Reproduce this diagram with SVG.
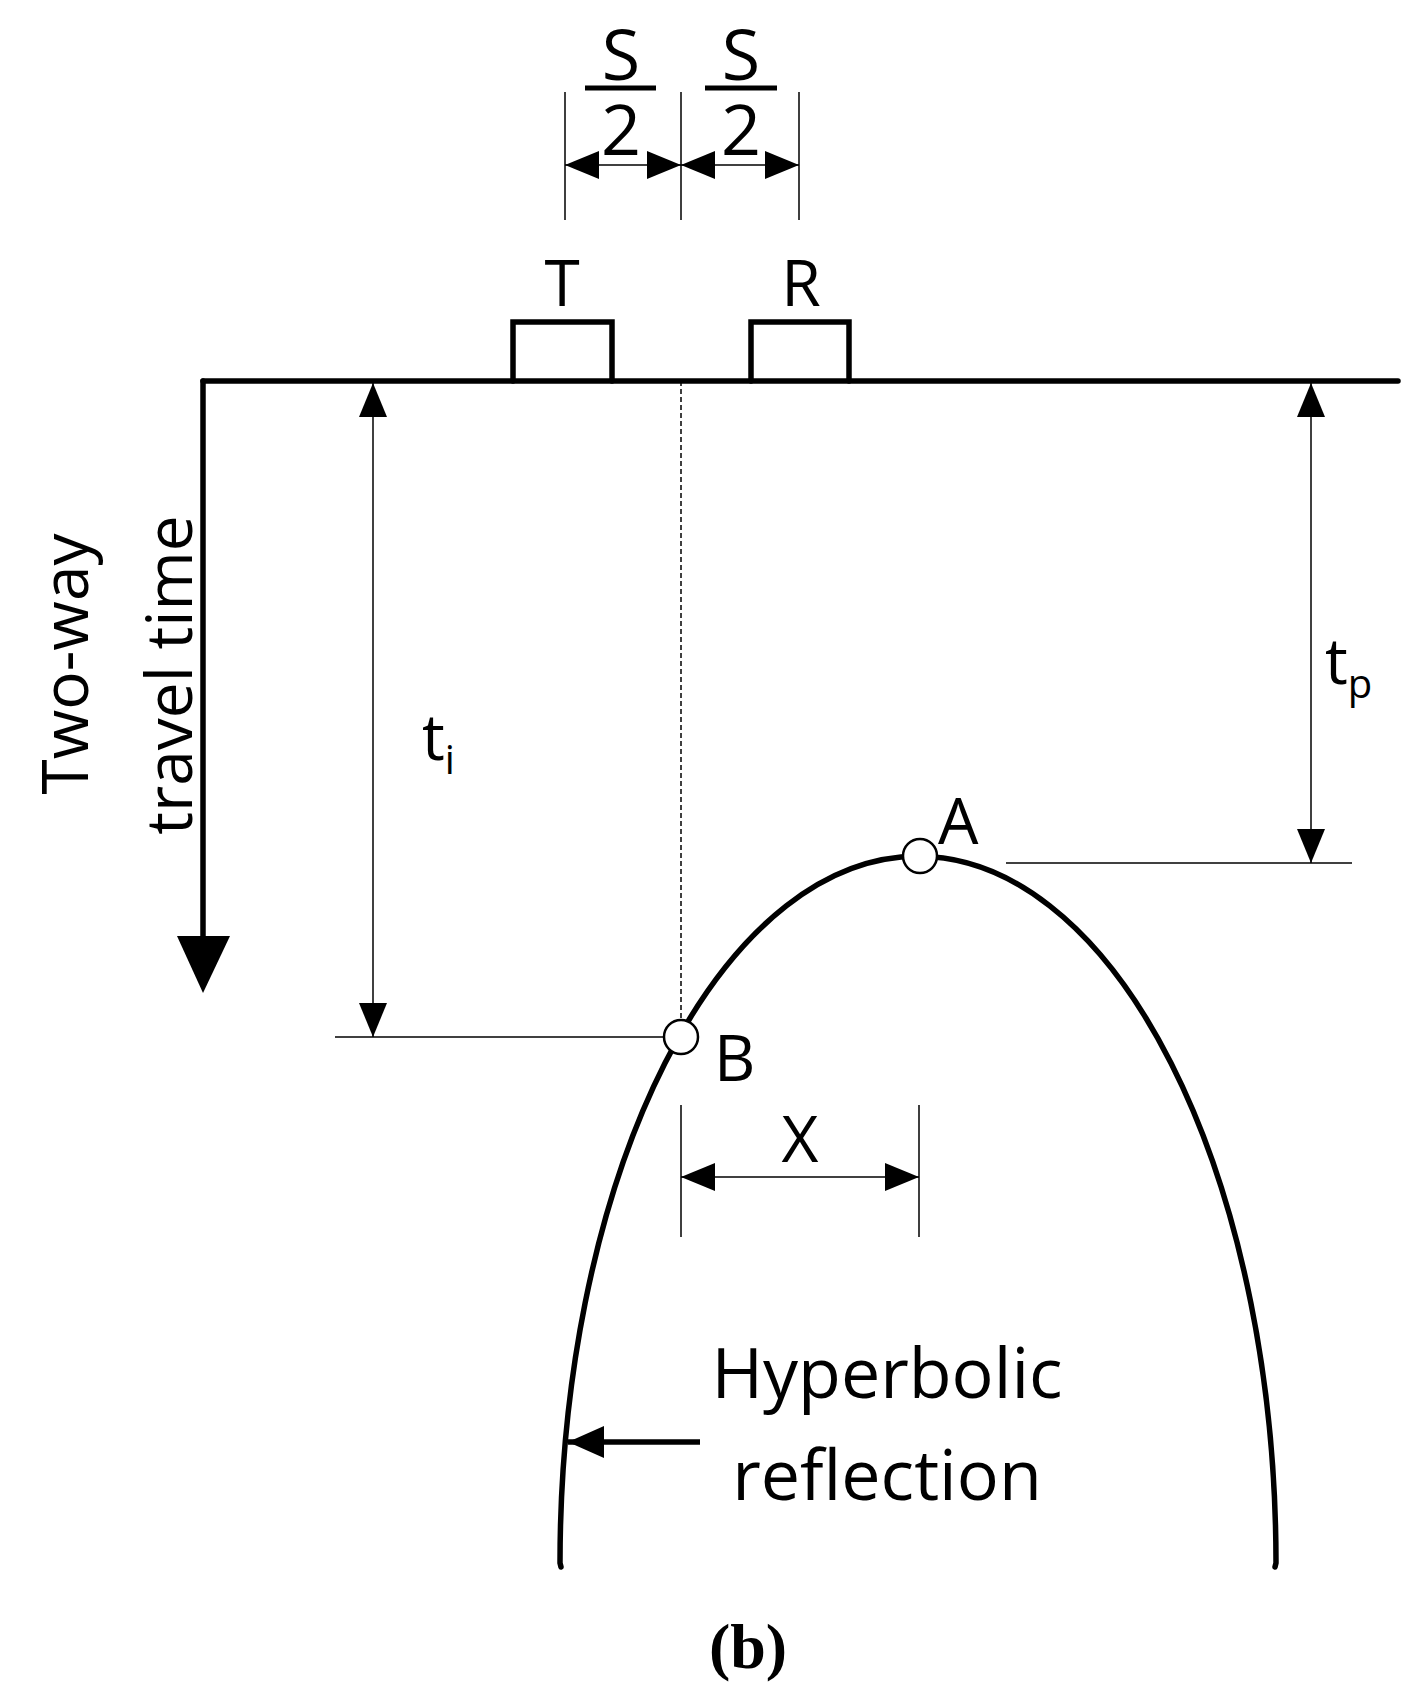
<svg xmlns="http://www.w3.org/2000/svg" width="1415" height="1695" viewBox="0 0 1415 1695">
<style>
.t{font-family:"Open Sans","Liberation Sans",sans-serif;fill:#000}
.thin{stroke:#000;stroke-width:1.5;fill:none}
.thick{stroke:#000;stroke-width:5.5;fill:none;stroke-linecap:round}
</style>
<defs>
<marker id="ar" markerUnits="userSpaceOnUse" markerWidth="34" markerHeight="28" refX="34" refY="14" orient="auto-start-reverse" viewBox="0 0 34 28"><path d="M0,0 L34,14 L0,28 Z" fill="#000"/></marker>
<marker id="ar2" markerUnits="userSpaceOnUse" markerWidth="36" markerHeight="32" refX="36" refY="16" orient="auto" viewBox="0 0 36 32"><path d="M0,0 L36,16 L0,32 Z" fill="#000"/></marker>
</defs>
<rect width="1415" height="1695" fill="#fff"/>
<g id="ground"><path class="thick" d="M203,381 H1398"/><path class="thick" d="M203,381 V940"/><path d="M177,936 L230,936 L203,993 Z" fill="#000"/></g>
<g id="T"><path class="thick" d="M513,381 V322 H612 V381" stroke-linecap="butt"/><text class="t" x="562" y="306" font-size="64" text-anchor="middle">T</text></g>
<g id="R"><path class="thick" d="M751,381 V322 H849 V381" stroke-linecap="butt"/><text class="t" x="801" y="306" font-size="64" text-anchor="middle">R</text></g>
<g id="connectors">
<path class="thin" d="M565,92 V220 M681,92 V220 M799,92 V220"/>
<path class="thin" d="M565,165 H681" marker-start="url(#ar)" marker-end="url(#ar)"/>
<path class="thin" d="M681,165 H799" marker-start="url(#ar)" marker-end="url(#ar)"/>
<path class="thin" d="M681,381 V1023" stroke-dasharray="5,3"/>
<path class="thin" d="M373,383 V1037" marker-start="url(#ar)" marker-end="url(#ar)"/>
<path class="thin" d="M335,1037 H669"/>
<path class="thin" d="M1311,383 V863" marker-start="url(#ar)" marker-end="url(#ar)"/>
<path class="thin" d="M1006,863 H1352"/>
<path class="thin" d="M681,1105 V1237 M919,1105 V1237"/>
<path class="thin" d="M681,1177 H919" marker-start="url(#ar)" marker-end="url(#ar)"/>
<path d="M700,1442 H568" stroke="#000" stroke-width="5.5" marker-end="url(#ar2)"/>
</g>
<g id="fractions">
<text class="t" x="621" y="80" font-size="70" text-anchor="middle">S</text>
<path d="M585,88 H656" stroke="#000" stroke-width="5"/>
<text class="t" x="621" y="155" font-size="70" text-anchor="middle">2</text>
<text class="t" x="741" y="80" font-size="70" text-anchor="middle">S</text>
<path d="M705,88 H777" stroke="#000" stroke-width="5"/>
<text class="t" x="741" y="155" font-size="70" text-anchor="middle">2</text>
</g>
<g id="curve"><path class="thick" d="M561,1567 L560,1563 A358,707 0 0 1 1276,1563 L1275,1567"/></g>
<g id="A"><circle cx="920" cy="856" r="17" fill="#fff" stroke="#000" stroke-width="2.5"/><text class="t" x="938" y="844" font-size="64">A</text></g>
<g id="B"><circle cx="681" cy="1037" r="17" fill="#fff" stroke="#000" stroke-width="2.5"/><text class="t" x="714" y="1081" font-size="64">B</text></g>
<g id="labels">
<text class="t" x="800" y="1162" font-size="64" text-anchor="middle">X</text>
<text class="t" x="422" y="760" font-size="64">t<tspan font-size="40" dy="14">i</tspan></text>
<text class="t" x="1325" y="684" font-size="64">t<tspan font-size="40" dy="14">p</tspan></text>
<text class="t" x="887" y="1398" font-size="70" text-anchor="middle">Hyperbolic</text>
<text class="t" x="887" y="1500" font-size="70" text-anchor="middle">reflection</text>
<text class="t" font-size="64" text-anchor="middle" transform="translate(88,664) rotate(-90)">Two-way</text>
<text class="t" font-size="64" text-anchor="middle" transform="translate(192,675) rotate(-90)">travel time</text>
<text x="748" y="1668" font-family="Liberation Serif,serif" font-weight="bold" font-size="64" text-anchor="middle">(b)</text>
</g>
</svg>
